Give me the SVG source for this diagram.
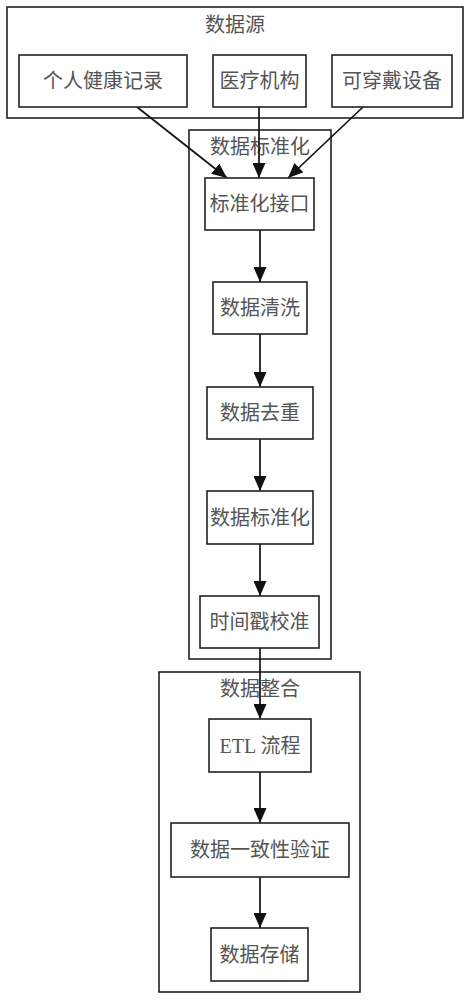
<svg xmlns="http://www.w3.org/2000/svg" width="470" height="1000" viewBox="0 0 470 1000">
<style>
.bg{fill:#ffffff}
.cl{fill:none;stroke:#222;stroke-width:1.6}
.nd{fill:#fff;stroke:#222;stroke-width:1.6}
.tx{font-family:"Liberation Serif","Noto Sans CJK SC",serif;font-size:20px;fill:#555;text-anchor:middle;dominant-baseline:central}
.ed{stroke:#111;stroke-width:1.7;fill:none;marker-end:url(#ah)}
</style>
<defs>
<marker id="ah" markerUnits="userSpaceOnUse" markerWidth="15" markerHeight="13" refX="15" refY="6.5" orient="auto">
<path d="M0,0 L15,6.5 L0,13 z" fill="#111"/>
</marker>
</defs>
<rect class="bg" x="0" y="0" width="470" height="1000"/>
<g id="cluster-source">
<rect class="cl" x="7" y="7" width="456" height="111"/>
<text class="tx" x="235" y="25">数据源</text>
</g>
<g id="cluster-standard">
<rect class="cl" x="189" y="130" width="142" height="529"/>
<text class="tx" x="260" y="147">数据标准化</text>
</g>
<g id="cluster-integrate">
<rect class="cl" x="159" y="672" width="201" height="320"/>
<text class="tx" x="260" y="689">数据整合</text>
</g>
<g id="connectors">
<line class="ed" x1="137" y1="107" x2="227" y2="178"/>
<line class="ed" x1="259" y1="107" x2="259" y2="178"/>
<line class="ed" x1="363" y1="107" x2="288" y2="178"/>
<line class="ed" x1="260" y1="230" x2="260" y2="282"/>
<line class="ed" x1="260" y1="334" x2="260" y2="387"/>
<line class="ed" x1="260" y1="439" x2="260" y2="491"/>
<line class="ed" x1="260" y1="544" x2="260" y2="596"/>
<line class="ed" x1="260" y1="648" x2="260" y2="719"/>
<line class="ed" x1="260" y1="772" x2="260" y2="823"/>
<line class="ed" x1="260" y1="877" x2="260" y2="928"/>
</g>
<g id="n-personal"><rect class="nd" x="19" y="55" width="168" height="52"/><text class="tx" x="103" y="81">个人健康记录</text></g>
<g id="n-medical"><rect class="nd" x="213" y="55" width="93" height="52"/><text class="tx" x="259.5" y="81">医疗机构</text></g>
<g id="n-wearable"><rect class="nd" x="332" y="55" width="120" height="52"/><text class="tx" x="392" y="81">可穿戴设备</text></g>
<g id="n-interface"><rect class="nd" x="205" y="178" width="109" height="52"/><text class="tx" x="259.5" y="204">标准化接口</text></g>
<g id="n-clean"><rect class="nd" x="213" y="282" width="94" height="52"/><text class="tx" x="260" y="308">数据清洗</text></g>
<g id="n-dedup"><rect class="nd" x="207" y="387" width="106" height="52"/><text class="tx" x="260" y="413">数据去重</text></g>
<g id="n-normalize"><rect class="nd" x="207" y="491" width="106" height="53"/><text class="tx" x="260" y="517.5">数据标准化</text></g>
<g id="n-timestamp"><rect class="nd" x="200" y="596" width="119" height="52"/><text class="tx" x="259.5" y="622">时间戳校准</text></g>
<g id="n-etl"><rect class="nd" x="209" y="719" width="102" height="53"/><text class="tx" x="260" y="745.5">ETL 流程</text></g>
<g id="n-consistency"><rect class="nd" x="171" y="823" width="178" height="54"/><text class="tx" x="260" y="850">数据一致性验证</text></g>
<g id="n-storage"><rect class="nd" x="211" y="928" width="97" height="53"/><text class="tx" x="259.5" y="954.5">数据存储</text></g>
</svg>
